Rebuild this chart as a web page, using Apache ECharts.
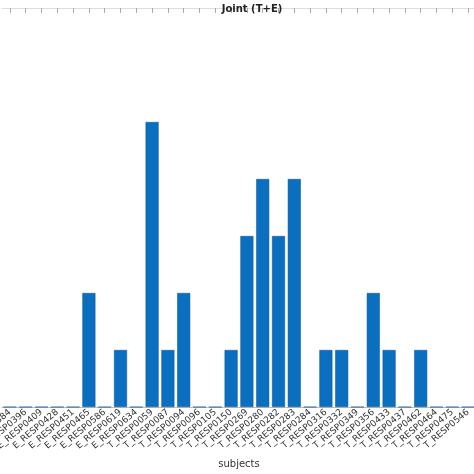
<!DOCTYPE html>
<html><head><meta charset="utf-8">
<script src="https://cdn.jsdelivr.net/npm/echarts@6/dist/echarts.min.js"></script>
<style>html,body{margin:0;padding:0;background:#fff}#c{width:474px;height:474px}</style>
</head><body><div id="c"></div>
<script>
var subjects = ['E_RESP0384','E_RESP0396','E_RESP0409','E_RESP0428','E_RESP0451','E_RESP0465','E_RESP0586','E_RESP0619','E_RESP0634',
  'T_RESP0059','T_RESP0087','T_RESP0094','T_RESP0096','T_RESP0105','T_RESP0150','T_RESP0269','T_RESP0280','T_RESP0282','T_RESP0283',
  'T_RESP0284','T_RESP0316','T_RESP0332','T_RESP0349','T_RESP0356','T_RESP0433','T_RESP0437','T_RESP0462','T_RESP0464','T_RESP0475','T_RESP0546'];
var counts = [0,0,0,0,0,2,0,1,0, 5,1,2,0,0,1,3,4,3,4, 0,1,1,0,2,1,0,1,0,0,0];

var myChart = echarts.init(document.getElementById('c'));
myChart.setOption({
  animation: false,
  title: {text: 'Joint (T+E)', left: 247, top: -1, textAlign: 'center',
    textStyle: {fontSize: 10, fontWeight: 'bold', color: '#222', fontFamily: 'DejaVu Sans'}},
  grid: {left: 2, right: -2, top: 8, bottom: 67, outerBoundsMode: 'none', containLabel: false},
  xAxis: [{
    type: 'category', data: subjects,
    name: 'subjects', nameLocation: 'middle', nameGap: 52,
    nameTextStyle: {fontSize: 10, color: '#333', fontFamily: 'DejaVu Sans'},
    axisLine: {lineStyle: {color: '#bbb'}},
    axisTick: {inside: true, length: 5, lineStyle: {color: '#888'}, alignWithLabel: true},
    axisLabel: {rotate: 40, interval: 0, fontSize: 9, color: '#333', fontFamily: 'DejaVu Sans', margin: 4}
  }, {
    type: 'category', data: subjects, position: 'top',
    axisLine: {lineStyle: {color: '#ddd'}},
    axisTick: {show: true, inside: true, length: 5, interval: 0, lineStyle: {color: '#aaa'}, alignWithLabel: true},
    axisLabel: {show: false}
  }],
  yAxis: {type: 'value', min: 0, max: 7, interval: 1, axisLabel: {show: false}, splitLine: {show: false}},
  series: [{type: 'bar', data: counts, barWidth: 13, itemStyle: {color: '#0b6fc0', borderColor: '#08509a', borderWidth: 0.5}}]
});
</script></body></html>
